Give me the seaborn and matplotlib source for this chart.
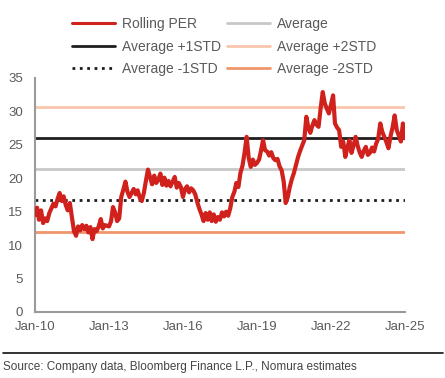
import pandas as pd
import numpy as np
import seaborn as sns
import matplotlib
matplotlib.use("Agg")
from matplotlib import pyplot as plt
import matplotlib.dates as mdates
from matplotlib.lines import Line2D

# monthly rolling PER, Jan-10 .. Jan-25 -->
per_2010 = [14.5, 15.6, 13.8, 15.2, 13.3, 14.0, 13.6, 14.8, 15.5, 16.2, 15.8, 16.9]
per_2011 = [17.8, 16.6, 17.3, 16.0, 15.2, 16.3, 14.2, 12.1, 11.4, 12.8, 12.2, 13.0]
per_2012 = [12.4, 12.9, 11.9, 12.7, 10.9, 12.4, 12.1, 12.8, 13.9, 12.5, 13.0, 12.9]
per_2013 = [12.8, 13.6, 15.7, 14.9, 13.6, 14.0, 17.2, 18.3, 19.5, 18.0, 17.2, 17.8]
per_2014 = [18.4, 17.6, 18.2, 17.1, 16.6, 17.8, 19.6, 21.3, 20.2, 19.1, 20.4, 19.3]
per_2015 = [19.8, 20.7, 19.0, 20.1, 18.9, 19.6, 18.8, 19.5, 20.2, 18.6, 19.3, 18.7]
per_2016 = [17.2, 18.4, 18.8, 17.9, 18.5, 18.2, 17.6, 16.4, 15.4, 14.6, 13.6, 14.8]
per_2017 = [13.8, 14.9, 13.6, 14.6, 13.5, 14.2, 13.8, 14.9, 14.3, 15.0, 14.4, 15.5]
per_2018 = [17.2, 18.0, 19.3, 18.7, 20.8, 21.9, 23.8, 26.2, 23.0, 21.7, 22.8, 22.0]
per_2019 = [22.3, 22.8, 24.1, 25.7, 24.2, 24.0, 23.4, 23.9, 23.0, 22.7, 22.9, 21.8]
per_2020 = [21.2, 19.5, 16.3, 17.2, 18.7, 19.9, 20.8, 22.0, 23.2, 24.1, 24.9, 25.7]
per_2021 = [29.2, 27.5, 26.8, 27.9, 28.7, 28.0, 27.7, 30.5, 32.9, 31.2, 30.4, 29.7]
per_2022 = [31.0, 32.4, 28.2, 27.6, 27.2, 24.7, 25.5, 23.2, 24.6, 25.7, 23.8, 24.9]
per_2023 = [26.2, 24.8, 23.9, 23.2, 24.1, 24.7, 23.5, 23.8, 24.6, 24.0, 25.2, 25.9]
per_2024 = [28.2, 26.9, 26.2, 25.4, 24.5, 26.3, 27.6, 29.4, 27.2, 26.4, 25.5, 28.2]
per_2025 = [26.0]

# band levels -->
band_names = ["Average", "Average +1STD", "Average +2STD", "Average -1STD", "Average -2STD"]
band_values = [21.4, 26.0, 30.7, 16.7, 12.0]
band_colors = ["#c8c8c8", "#1e1e1e", "#f9c6ad", "#1e1e1e", "#f0956c"]
band_styles = ["-", "-", "-", ":", "-"]

per = (per_2010 + per_2011 + per_2012 + per_2013 + per_2014 + per_2015 + per_2016 + per_2017
       + per_2018 + per_2019 + per_2020 + per_2021 + per_2022 + per_2023 + per_2024 + per_2025)
df = pd.DataFrame({"date": pd.date_range("2010-01-01", periods=len(per), freq="MS"), "per": per})

sns.set_style("white")
plt.rcParams['font.family'] = ['Liberation Sans', 'DejaVu Sans']

fig = plt.figure(figsize=(4.45, 3.78), dpi=100)
ax = fig.add_axes([35/445, 1-312/378, 370/445, 234/378])

for v, c, s in zip(band_values, band_colors, band_styles):
    ax.axhline(v, color=c, linestyle=s, linewidth=2.0, zorder=1)
sns.lineplot(data=df, x="date", y="per", ax=ax, color="#d0211d", linewidth=3.0, zorder=3)

ax.set_xlim(pd.Timestamp("2010-01-01"), pd.Timestamp("2025-01-01"))
ax.set_ylim(0, 35)
ax.set_yticks(range(0, 36, 5))
ax.xaxis.set_major_locator(mdates.YearLocator(3, month=1, day=1))
ax.xaxis.set_major_formatter(mdates.DateFormatter("%b-%y"))
ax.set_xlabel("")
ax.set_ylabel("")
ax.tick_params(axis="y", length=0, pad=8.5, labelsize=9.5, labelcolor="#5a5a5a")
ax.tick_params(axis="x", length=0, pad=6.5, labelsize=9.5, labelcolor="#5a5a5a")
for side in ["top", "right"]:
    ax.spines[side].set_visible(False)
for side in ["left", "bottom"]:
    ax.spines[side].set_color("#9a9a9a")
    ax.spines[side].set_linewidth(1.5)

# legend -->
h_per = Line2D([], [], color="#d0211d", linewidth=2.2)
hb = [Line2D([], [], color=c, linestyle=s, linewidth=2.0) for c, s in zip(band_colors, band_styles)]
handles = [h_per, hb[1], hb[3], hb[0], hb[2], hb[4]]
labels = ["Rolling PER", band_names[1], band_names[3], band_names[0], band_names[2], band_names[4]]
fig.legend(handles, labels, ncol=2, loc="upper left", bbox_to_anchor=(72/445, 1-17/378),
           frameon=False, fontsize=10, handlelength=3.1, handletextpad=0.5,
           columnspacing=0.45, labelspacing=0.62, borderpad=0, borderaxespad=0,
           labelcolor="#5a5a5a")

# source -->
fig.add_artist(Line2D([3/445, 443/445], [1-353/378, 1-353/378], color="#111111", linewidth=1.2))
fig.text(3/445, 1-367/378, "Source: Company data, Bloomberg Finance L.P., Nomura estimates",
         fontsize=8.5, color="#444444", va="center", ha="left")

fig.savefig("out.png", dpi=100)
